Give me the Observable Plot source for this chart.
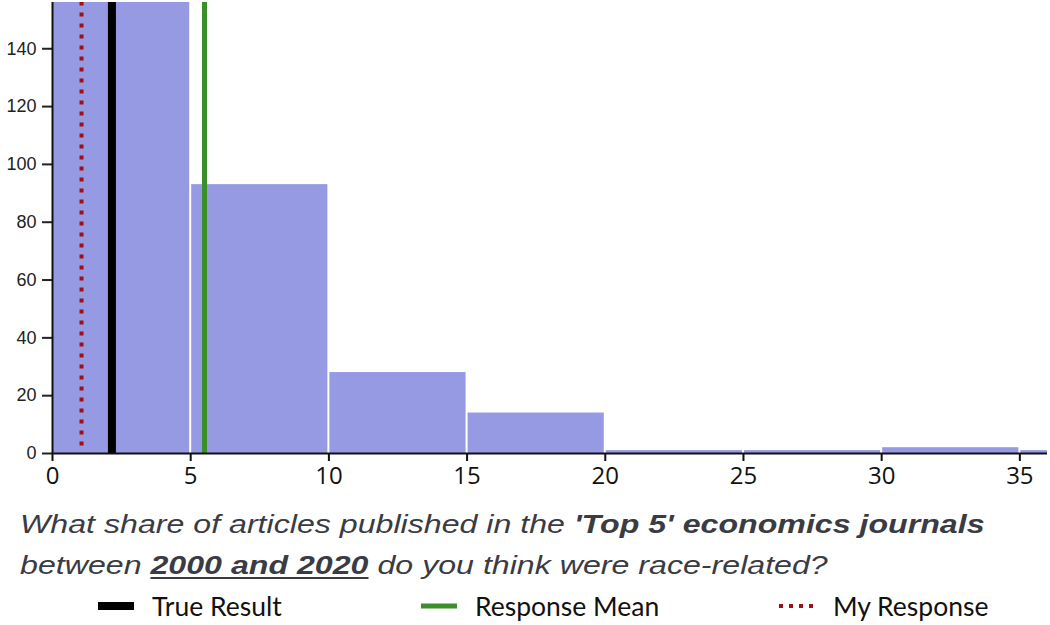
<!DOCTYPE html>
<html>
<head>
<meta charset="utf-8">
<script src="https://cdn.jsdelivr.net/npm/d3@7"></script>
<script src="https://cdn.jsdelivr.net/npm/@observablehq/plot@0.6"></script>
<style>
  html, body { margin: 0; padding: 0; background: #fff; }
  body { width: 1050px; height: 625px; position: relative; overflow: hidden; }
  #chart { position: absolute; left: 0; top: 0; }
  #title { position: absolute; left: 20px; top: 504px; font-family: "Liberation Sans", Arial, sans-serif; font-style: italic; font-size: 26.5px; line-height: 41px; color: #3b3b43; white-space: nowrap; transform: scaleX(1.213); transform-origin: 0 0; }
  #title b { font-weight: bold; }
  #title u { text-decoration: underline; text-underline-offset: 3px; text-decoration-thickness: 2px; }
  #legend { position: absolute; left: 0; top: 590px; width: 1050px; height: 34px; font-family: Lato, sans-serif; font-size: 26.5px; color: #111; }
  .item { position: absolute; top: 0; display: flex; align-items: center; height: 32px; }
  .item svg { margin-right: 18px; }
</style>
</head>
<body>
<div id="chart"></div>
<div id="title">What share of articles published in the <b>'Top 5' economics journals</b><br>between <b><u>2000 and 2020</u></b> do you think were race-related?</div>
<div id="legend"></div>
<script>
// Histogram bins (percent share) and counts of responses
const binStarts = [0, 5, 10, 15, 20, 25, 30, 35];
const binEnds   = [5, 10, 15, 20, 25, 30, 35, 40];
const counts    = [180, 93, 28, 14, 1, 1, 2, 1];

// Reference lines
const refNames  = ["True Result", "Response Mean", "My Response"];
const refValues = [2.15, 5.5, 1.05];
const refColors = ["#000000", "#3a8f2a", "#a01010"];

const xTicks = [0, 5, 10, 15, 20, 25, 30, 35];
const yTicks = [0, 20, 40, 60, 80, 100, 120, 140];

const bins = binStarts.map((s, i) => ({x1: s, x2: binEnds[i], count: counts[i]}));
const refs = refNames.map((n, i) => ({name: n, value: refValues[i], color: refColors[i]}));

const chart = Plot.plot({
  width: 1050,
  height: 500,
  marginLeft: 52,
  marginRight: 3,
  marginTop: 2,
  marginBottom: 47,
  x: {domain: [0, 36], axis: null},
  y: {domain: [0, 156], axis: null},
  marks: [
    Plot.rectY(bins, {x1: "x1", x2: "x2", y: "count", fill: "#959ae3", insetLeft: 1, insetRight: 1, clip: true}),
    Plot.ruleX(refs.filter(d => d.name === "True Result"), {x: "value", stroke: "color", strokeWidth: 8}),
    Plot.ruleX(refs.filter(d => d.name === "Response Mean"), {x: "value", stroke: "color", strokeWidth: 5}),
    Plot.ruleX(refs.filter(d => d.name === "My Response"), {x: "value", y1: 2.6, y2: 156, stroke: "color", strokeWidth: 4, strokeDasharray: "4,7"}),
    Plot.axisY({ticks: yTicks, label: null, tickSize: 10, tickPadding: 6, fontSize: 18, fontFamily: "Liberation Sans", color: "#222", strokeWidth: 2}),
    Plot.axisX({ticks: xTicks, label: null, tickSize: 8, tickPadding: 5, fontSize: 24, fontFamily: "Open Sans", color: "#111", strokeWidth: 2}),
    Plot.ruleX([0], {stroke: "#111", strokeWidth: 2}),
    Plot.ruleY([0], {stroke: "#111", strokeWidth: 2})
  ]
});
chart.style.fontFamily = "Liberation Sans";
document.getElementById("chart").appendChild(chart);

// Legend
const legendPos = [98, 421, 779];
const legend = document.getElementById("legend");
refs.forEach((r, i) => {
  const item = document.createElement("div");
  item.className = "item";
  item.style.left = legendPos[i] + "px";
  const sw = i === 0 ? 8 : (i === 1 ? 5 : 4);
  const dash = i === 2 ? ' stroke-dasharray="4,6"' : '';
  item.innerHTML = `<svg width="36" height="16"><line x1="0" y1="8" x2="36" y2="8" stroke="${r.color}" stroke-width="${sw}"${dash}/></svg><span>${r.name}</span>`;
  legend.appendChild(item);
});
</script>
</body>
</html>
